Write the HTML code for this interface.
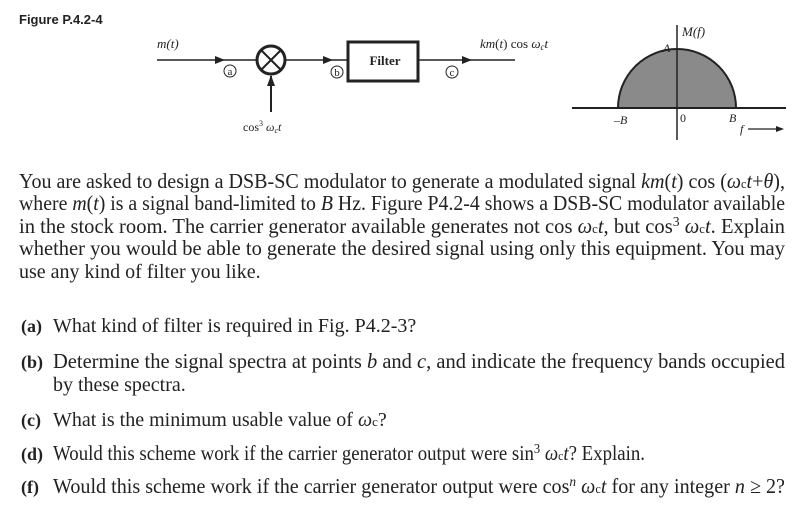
<!DOCTYPE html>
<html><head><meta charset="utf-8">
<style>
html,body{margin:0;padding:0;background:#fff;}
svg{display:block;}
text{font-family:"Liberation Serif",serif;fill:#222;}
.i{font-style:italic;}
</style></head>
<body>
<svg width="806" height="508" viewBox="0 0 806 508" xmlns="http://www.w3.org/2000/svg">
<rect width="806" height="508" fill="#fff"/>
<text x="19" y="24" style="font-family:'Liberation Sans',sans-serif;font-weight:bold;font-size:13px">Figure P.4.2-4</text>
<g stroke="#222" fill="none">
<line x1="157" y1="60" x2="257" y2="60" stroke-width="1.6"/>
<circle cx="271" cy="60" r="14" stroke-width="3"/>
<line x1="261" y1="50" x2="281" y2="70" stroke-width="2"/>
<line x1="281" y1="50" x2="261" y2="70" stroke-width="2"/>
<line x1="285" y1="60" x2="348" y2="60" stroke-width="1.6"/>
<rect x="348" y="42" width="70" height="39" stroke-width="3"/>
<line x1="418" y1="60" x2="515" y2="60" stroke-width="1.6"/>
<line x1="271" y1="112" x2="271" y2="76" stroke-width="2"/>
</g>
<g fill="#222">
<polygon points="215,56 225,60 215,64"/>
<polygon points="323,56 333,60 323,64"/>
<polygon points="462,56 472,60 462,64"/>
<polygon points="267,86 271,75 275,86"/>
</g>
<text x="157" y="48" class="i" font-size="13">m(t)</text>
<text x="385" y="65" font-size="13" font-weight="bold" text-anchor="middle">Filter</text>
<g font-size="11" text-anchor="middle">
<circle cx="230" cy="71" r="6" fill="none" stroke="#222"/><text x="230" y="75">a</text>
<circle cx="337" cy="72" r="6" fill="none" stroke="#222"/><text x="337" y="76">b</text>
<circle cx="452" cy="72" r="6" fill="none" stroke="#222"/><text x="452" y="76">c</text>
</g>
<text x="243" y="131" font-size="12">cos<tspan dy="-5" font-size="8">3</tspan><tspan dy="5" class="i"> ω<tspan font-size="8" dy="2">c</tspan><tspan dy="-2">t</tspan></tspan></text>
<text x="480" y="48" font-size="13"><tspan class="i">km</tspan>(<tspan class="i">t</tspan>) cos <tspan class="i">ω<tspan font-size="9" dy="2">c</tspan><tspan dy="-2">t</tspan></tspan></text>
<path d="M618,108 A58,58 0 0 1 736,108 Z" fill="#8a8a8a" stroke="#222" stroke-width="2"/>
<line x1="572" y1="108" x2="786" y2="108" stroke="#222" stroke-width="2"/>
<line x1="677" y1="25" x2="677" y2="140" stroke="#222" stroke-width="1.5"/>
<text x="682" y="36" class="i" font-size="13">M(f)</text>
<text x="663" y="52" class="i" font-size="12">A</text>
<text x="614" y="124" class="i" font-size="12">–B</text>
<text x="680" y="122" font-size="12">0</text>
<text x="729" y="122" class="i" font-size="12">B</text>
<text x="740" y="133" class="i" font-size="12">f</text>
<line x1="748" y1="129" x2="782" y2="129" stroke="#222" stroke-width="1.2"/>
<polygon points="776,126 784,129 776,132" fill="#222"/>
<g font-size="21">
<text x="19" y="188" textLength="766" lengthAdjust="spacingAndGlyphs">You are asked to design a DSB-SC modulator to generate a modulated signal <tspan class="i">km</tspan>(<tspan class="i">t</tspan>) cos (<tspan class="i">ω</tspan><tspan font-size="13">c</tspan><tspan class="i">t</tspan>+<tspan class="i">θ</tspan>),</text>
<text x="19" y="210" textLength="766" lengthAdjust="spacingAndGlyphs">where <tspan class="i">m</tspan>(<tspan class="i">t</tspan>) is a signal band-limited to <tspan class="i">B</tspan> Hz. Figure P4.2-4 shows a DSB-SC modulator available</text>
<text x="19" y="233" textLength="766" lengthAdjust="spacingAndGlyphs">in the stock room. The carrier generator available generates not cos <tspan class="i">ω</tspan><tspan font-size="13">c</tspan><tspan class="i">t</tspan>, but cos<tspan font-size="14" dy="-7">3</tspan><tspan dy="7"> </tspan><tspan class="i">ω</tspan><tspan font-size="13">c</tspan><tspan class="i">t</tspan>. Explain</text>
<text x="19" y="255" textLength="766" lengthAdjust="spacingAndGlyphs">whether you would be able to generate the desired signal using only this equipment. You may</text>
<text x="19" y="278" font-size="20">use any kind of filter you like.</text>

<text x="21" y="332" font-weight="bold" font-size="18">(a)</text>
<text x="53" y="332" font-size="20">What kind of filter is required in Fig. P4.2-3?</text>
<text x="21" y="368" font-weight="bold" font-size="18">(b)</text>
<text x="53" y="368" textLength="732" lengthAdjust="spacingAndGlyphs">Determine the signal spectra at points <tspan class="i">b</tspan> and <tspan class="i">c</tspan>, and indicate the frequency bands occupied</text>
<text x="53" y="391" font-size="20">by these spectra.</text>
<text x="21" y="426" font-weight="bold" font-size="18">(c)</text>
<text x="53" y="426" font-size="20">What is the minimum usable value of <tspan class="i">ω</tspan><tspan font-size="13">c</tspan>?</text>
<text x="21" y="460" font-weight="bold" font-size="18">(d)</text>
<text x="53" y="460" textLength="592" lengthAdjust="spacingAndGlyphs">Would this scheme work if the carrier generator output were sin<tspan font-size="14" dy="-7">3</tspan><tspan dy="7"> </tspan><tspan class="i">ω</tspan><tspan font-size="13">c</tspan><tspan class="i">t</tspan>? Explain.</text>
<text x="21" y="493" font-weight="bold" font-size="18">(f)</text>
<text x="53" y="493" textLength="732" lengthAdjust="spacingAndGlyphs">Would this scheme work if the carrier generator output were cos<tspan font-size="14" dy="-7" class="i">n</tspan><tspan dy="7"> </tspan><tspan class="i">ω</tspan><tspan font-size="13">c</tspan><tspan class="i">t</tspan> for any integer <tspan class="i">n</tspan> ≥ 2?</text>
</g>
</svg>
</body></html>
